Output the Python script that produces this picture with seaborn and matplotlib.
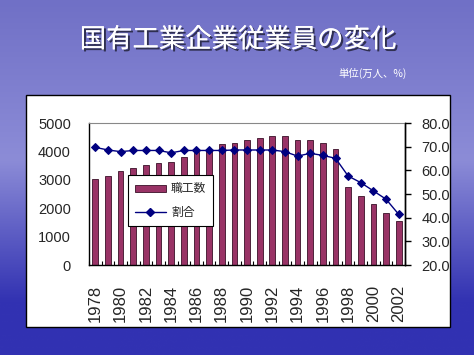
import numpy as np
import pandas as pd
import seaborn as sns
import matplotlib.pyplot as plt
import matplotlib.patheffects as pe
from matplotlib.patches import Rectangle
from matplotlib.lines import Line2D
from matplotlib.ticker import FormatStrFormatter, MultipleLocator

# データ
years = ['1978', '1979', '1980', '1981', '1982', '1983', '1984', '1985', '1986',
         '1987', '1988', '1989', '1990', '1991', '1992', '1993', '1994', '1995',
         '1996', '1997', '1998', '1999', '2000', '2001', '2002']
workers = [3040, 3130, 3300, 3430, 3520, 3580, 3630, 3810, 3990, 4050, 4260, 4300,
           4400, 4480, 4540, 4540, 4400, 4400, 4310, 4070, 2760, 2430, 2140, 1840, 1550]
ratio = [69.7, 68.6, 67.9, 68.4, 68.4, 68.4, 67.4, 68.4, 68.4, 68.4, 68.4, 68.6,
         68.6, 68.6, 68.6, 67.9, 66.0, 67.2, 66.3, 65.1, 57.6, 54.8, 51.3, 47.8, 41.4]

title = '国有工業企業従業員の変化'
unit_label = '単位(万人、%)'
bar_label = '職工数'
line_label = '割合'

df = pd.DataFrame({'year': years, 'workers': workers, 'ratio': ratio})

sns.set_theme(style='white')
plt.rcParams['font.family'] = ['Liberation Sans', 'Noto Sans CJK JP']

fig = plt.figure(figsize=(4.74, 3.55), dpi=100)

# 背景（青いグラデーション）
bg = fig.add_axes([0, 0, 1, 1], zorder=-10)
grad = np.linspace(0, 1, 256).reshape(-1, 1)
top_c = np.array([112, 112, 198]) / 255
mid_c = np.array([140, 140, 215]) / 255
bot_c = np.array([50, 50, 178]) / 255
rgb = np.where(grad < 0.45,
               top_c + (mid_c - top_c) * (grad / 0.45),
               mid_c + (bot_c - mid_c) * np.clip((grad - 0.45) / 0.4, 0, 1))
img = np.repeat(rgb[:, None, :], 2, axis=1)
bg.imshow(img, aspect='auto', extent=[0, 1, 0, 1])
bg.axis('off')

# 白いパネル
fig.add_artist(Rectangle((0.0549, 0.0789), 0.894, 0.6535, transform=fig.transFigure,
                         facecolor='white', edgecolor='black', linewidth=1.0, zorder=-5))

# タイトル
fig.text(0.502, 0.888, title, color='white', fontsize=19, ha='center', va='center',
         family=['Noto Sans CJK JP'],
         path_effects=[pe.withSimplePatchShadow(offset=(1.5, -1.5), shadow_rgbFace='black', alpha=0.6),
                       pe.Normal()])
fig.text(0.787, 0.794, unit_label, color='white', fontsize=7.5, ha='center', va='center',
         family=['Noto Sans CJK JP', 'DejaVu Sans'])

ax = fig.add_axes([0.1878, 0.2535, 0.6667, 0.4])
sns.barplot(data=df, x='year', y='workers', color='#993366', edgecolor='#3a1028',
            linewidth=0.6, width=0.45, saturation=1, ax=ax)
ax.set_ylim(0, 5000)
ax.set_xlim(-0.5, len(years) - 0.5)
ax.yaxis.set_major_locator(MultipleLocator(1000))
ax.set_xlabel('')
ax.set_ylabel('')
ax.set_xticks(range(0, len(years), 2))
ax.set_xticklabels(years[::2], rotation=90, fontsize=12)
ax.set_xticks(np.arange(-0.5, len(years), 1), minor=True)
ax.tick_params(axis='x', which='major', length=0, pad=14)
ax.tick_params(axis='x', which='minor', direction='in', length=3, width=0.8, color='black', bottom=True)
ax.tick_params(axis='y', labelsize=10.5, length=0, pad=13, left=False)
ax.spines['top'].set_color('#888888')
ax.spines['top'].set_linewidth(0.8)
for s in ['left', 'bottom', 'right']:
    ax.spines[s].set_color('black')
    ax.spines[s].set_linewidth(1.0)
ax.set_facecolor('white')

ax2 = ax.twinx()
sns.pointplot(data=df, x='year', y='ratio', color='#000080', markers='D',
              markersize=4, linewidth=1.0, ax=ax2)
ax2.set_ylim(20, 80)
ax2.set_xlim(-0.5, len(years) - 0.5)
ax2.yaxis.set_major_locator(MultipleLocator(10))
ax2.yaxis.set_major_formatter(FormatStrFormatter('%.1f'))
ax2.tick_params(axis='y', labelsize=10.5, direction='out', length=4, width=1.0,
                color='black', right=True, pad=8)
ax2.set_ylabel('')
for s in ['left', 'top', 'bottom']:
    ax2.spines[s].set_visible(False)
ax2.spines['right'].set_color('black')
ax2.spines['right'].set_linewidth(1.0)

handles = [Rectangle((0, 0), 1, 1, facecolor='#993366', edgecolor='#3a1028', linewidth=0.6),
           Line2D([], [], color='#000080', marker='D', markersize=4, linewidth=1.0)]
leg = ax2.legend(handles, [bar_label, line_label], loc='lower left',
                 bbox_to_anchor=(0.123, 0.275), borderaxespad=0, frameon=True, fancybox=False,
                 edgecolor='black', framealpha=1, handlelength=2.6, handleheight=0.55,
                 borderpad=0.6, labelspacing=0.9, handletextpad=0.45,
                 prop={'family': ['Noto Sans CJK JP'], 'size': 8.5})
leg.get_frame().set_linewidth(0.8)

fig.savefig('out.png', dpi=100)
